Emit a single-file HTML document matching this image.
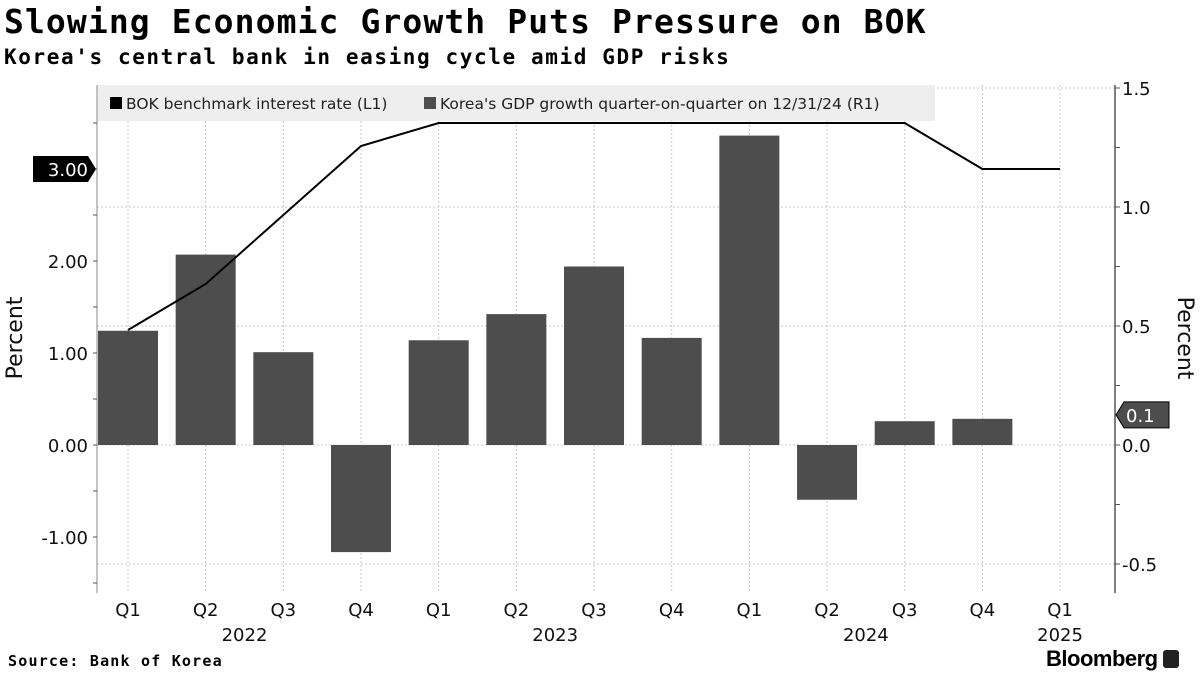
<!DOCTYPE html>
<html><head><meta charset="utf-8"><style>
body{margin:0;background:#fff;font-family:"DejaVu Sans","Liberation Sans",sans-serif;}
#wrap{position:relative;width:1200px;height:675px;overflow:hidden;}
.t1{position:absolute;left:4px;top:2px;font:bold 33px "DejaVu Sans Mono","Liberation Mono",monospace;letter-spacing:1.1px;}
.t2{position:absolute;left:4px;top:45px;font:bold 21px "DejaVu Sans Mono","Liberation Mono",monospace;letter-spacing:1.6px;}
.src{position:absolute;left:8px;top:652px;font:bold 15px "DejaVu Sans Mono","Liberation Mono",monospace;letter-spacing:1.2px;}
.bb{position:absolute;left:1046px;top:646px;font:bold 22px "Liberation Sans",sans-serif;letter-spacing:-0.5px;}
</style></head><body>
<div id="wrap">
<div class="t1">Slowing Economic Growth Puts Pressure on BOK</div>
<div class="t2">Korea's central bank in easing cycle amid GDP risks</div>
<svg id="svg" width="1200" height="675" style="position:absolute;left:0;top:0"></svg>
<div class="src">Source: Bank of Korea</div>
<div class="bb">Bloomberg <span style="display:inline-block;width:16px;height:18px;background:#222;border-radius:3px;vertical-align:-2px"></span></div>
</div>
<script>
const quarters=["Q1","Q2","Q3","Q4","Q1","Q2","Q3","Q4","Q1","Q2","Q3","Q4","Q1"];
const years=[{label:"2022",i:1.5},{label:"2023",i:5.5},{label:"2024",i:9.5},{label:"2025",i:12}];
const gdp=[0.48,0.80,0.39,-0.45,0.44,0.55,0.75,0.45,1.30,-0.23,0.10,0.11,null];
const rate=[1.25,1.75,2.50,3.25,3.50,3.50,3.50,3.50,3.50,3.50,3.50,3.00,3.00];
const leftTicks=[-1,0,1,2];
const rightTicks=[-0.5,0,0.5,1.0,1.5];
const NS="http://www.w3.org/2000/svg";
const svg=document.getElementById('svg');
const X0=97,X1=1115,YT=85,YB=593;
const xc=i=>128+i*77.67;
const yl=v=>445-v*92;
const yr=v=>445-v*238;
function el(tag,attrs,parent){const e=document.createElementNS(NS,tag);for(const k in attrs)e.setAttribute(k,attrs[k]);(parent||svg).appendChild(e);return e;}
rightTicks.forEach(v=>{const l=el('line',{x1:X0,x2:X1,y1:yr(v),y2:yr(v),stroke:'#c8c8c8','stroke-dasharray':'2,2'});

});
quarters.forEach((q,i)=>{const l=el('line',{x1:xc(i),x2:xc(i),y1:YT,y2:YB,stroke:'#c8c8c8','stroke-dasharray':'2,2'});

});
const lg=el('g',{});


el('rect',{x:98,y:85,width:837,height:36,fill:'#eeeeee'},lg);
el('rect',{x:110,y:97,width:12,height:12,fill:'#000'},lg);
let t=el('text',{x:126,y:109,'font-size':'15.5',fill:'#222'},lg);t.textContent='BOK benchmark interest rate (L1)';


el('rect',{x:424,y:97,width:12,height:12,fill:'#4d4d4d'},lg);
t=el('text',{x:440,y:109,'font-size':'15.5',fill:'#222'},lg);t.textContent="Korea's GDP growth quarter-on-quarter on 12/31/24 (R1)";


gdp.forEach((v,i)=>{if(v===null)return;const y=Math.min(yr(v),yr(0));const h=Math.abs(yr(v)-yr(0));
const r=el('rect',{x:xc(i)-30,y:y,width:60,height:h,fill:'#4d4d4d'});

});
const p=el('polyline',{points:rate.map((v,i)=>xc(i)+','+yl(v)).join(' '),fill:'none',stroke:'#000','stroke-width':2});


el('line',{x1:X0,x2:X0,y1:YT,y2:YB,stroke:'#888'});
el('line',{x1:X1,x2:X1,y1:YT,y2:YB,stroke:'#555','stroke-width':1.5});
for(let v=-1.5;v<=3.5;v+=0.5){el('line',{x1:X0-4,x2:X0,y1:yl(v),y2:yl(v),stroke:'#555'});}
for(let v=-0.5;v<=1.5;v+=0.25){el('line',{x1:X1,x2:X1+5,y1:yr(v),y2:yr(v),stroke:'#555'});}
leftTicks.forEach(v=>{const tx=el('text',{x:88,y:yl(v)+7,'font-size':'18','text-anchor':'end',fill:'#111'});tx.textContent=v.toFixed(2);

});
rightTicks.forEach(v=>{const tx=el('text',{x:1122,y:yr(v)+7,'font-size':'18',fill:'#111'});tx.textContent=v.toFixed(1);

});
quarters.forEach((q,i)=>{const tx=el('text',{x:xc(i),y:616,'font-size':'18','text-anchor':'middle',fill:'#111'});tx.textContent=q;

});
years.forEach(y=>{const tx=el('text',{x:xc(y.i),y:641,'font-size':'18','text-anchor':'middle',fill:'#111'});tx.textContent=y.label;

});
let at=el('text',{x:0,y:0,'font-size':'22','text-anchor':'middle',transform:'translate(22,338) rotate(-90)',fill:'#111'});at.textContent='Percent';


at=el('text',{x:0,y:0,'font-size':'22','text-anchor':'middle',transform:'translate(1178,338) rotate(90)',fill:'#111'});at.textContent='Percent';


const lastRate=rate[rate.length-1];const ty=yl(lastRate);
el('path',{d:`M33,${ty-13} H88 L96,${ty} L88,${ty+13} H33 Z`,fill:'#000'});
let tg=el('text',{x:88,y:ty+7,'font-size':'18','text-anchor':'end',fill:'#fff'});tg.textContent=lastRate.toFixed(2);


const lastG=gdp[11];const gy=yr(lastG)-4;
el('path',{d:`M1124,${gy-13} H1169 V${gy+13} H1124 L1116,${gy} Z`,fill:'#4d4d4d',stroke:'#000'});
tg=el('text',{x:1126,y:gy+7,'font-size':'18',fill:'#fff'});tg.textContent=lastG.toFixed(1);


</script>
</body></html>
